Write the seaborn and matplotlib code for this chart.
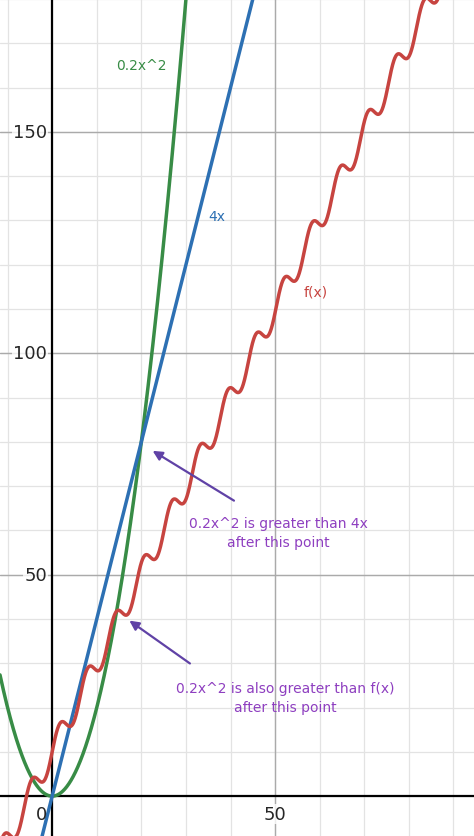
import numpy as np
import matplotlib
matplotlib.use('Agg')
import matplotlib.pyplot as plt
import seaborn as sns

# view window
x_range = [-11.7, 94.6]
y_range = [-9.0, 180.0]

# curves
quad_coef = 0.2        # 0.2x^2
line_slope = 4         # 4x
f_slope, f_offset, f_amp = 2.0, 10.0, 3.0   # f(x) = 2x + 10 + 3 sin x

major_ticks = [0, 50, 100, 150]
minor_step = 10

labels = [("0.2x^2", 19.9, 165, '#388c46'), ("4x", 37.0, 131, '#2d70b3'), ("f(x)", 59.0, 114, '#c74440')]
notes = [("0.2x^2 is greater than 4x\nafter this point", (50.7, 59.5), (41.3, 66.4), (22.0, 78.3)),
         ("0.2x^2 is also greater than f(x)\nafter this point", (52.2, 22.3), (31.4, 29.6), (16.8, 40.0))]

sns.set_style('white')
fig = plt.figure(figsize=(4.74, 8.37), dpi=100)
ax = fig.add_axes([0, 0, 1, 1])

for v in np.arange(-10, 100, minor_step):
    ax.axvline(v, color='#e3e3e3', lw=0.9, zorder=0)
for v in np.arange(-10, 190, minor_step):
    ax.axhline(v, color='#e3e3e3', lw=0.9, zorder=0)
for v in major_ticks[1:]:
    ax.axvline(v, color='#aaaaaa', lw=1.0, zorder=0)
    ax.axhline(v, color='#aaaaaa', lw=1.0, zorder=0)
ax.axvline(0, color='black', lw=1.6, zorder=1)
ax.axhline(0, color='black', lw=1.6, zorder=1)

x = np.linspace(x_range[0], x_range[1], 2000)
sns.lineplot(x=x, y=quad_coef * x ** 2, color='#388c46', lw=2.5, ax=ax, zorder=3)
sns.lineplot(x=x, y=line_slope * x, color='#2d70b3', lw=2.5, ax=ax, zorder=3)
sns.lineplot(x=x, y=f_slope * x + f_offset + f_amp * np.sin(x), color='#c74440', lw=2.5, ax=ax, zorder=3)

for txt, lx, ly, c in labels:
    ax.text(lx, ly, txt, color=c, fontsize=10, ha='center', va='center')
for txt, tpos, tail, head in notes:
    ax.text(*tpos, txt, color='#8e3fc0', fontsize=10, ha='center', va='center', linespacing=1.4)
    ax.annotate('', xy=head, xytext=tail,
                arrowprops=dict(arrowstyle='-|>', color='#6042a6', lw=1.6, mutation_scale=14))

for v in major_ticks[1:]:
    ax.text(-1.2, v, str(v), fontsize=13, ha='right', va='center',
            bbox=dict(facecolor='white', edgecolor='none', pad=0.5, alpha=0.8))
ax.text(-1.2, -2.0, '0', fontsize=13, ha='right', va='top')
ax.text(50, -2.0, '50', fontsize=13, ha='center', va='top',
        bbox=dict(facecolor='white', edgecolor='none', pad=0.5, alpha=0.8))

ax.set_xlim(*x_range)
ax.set_ylim(*y_range)
ax.set_xticks([])
ax.set_yticks([])
for s in ax.spines.values():
    s.set_visible(False)
fig.savefig('out.png', dpi=100)
